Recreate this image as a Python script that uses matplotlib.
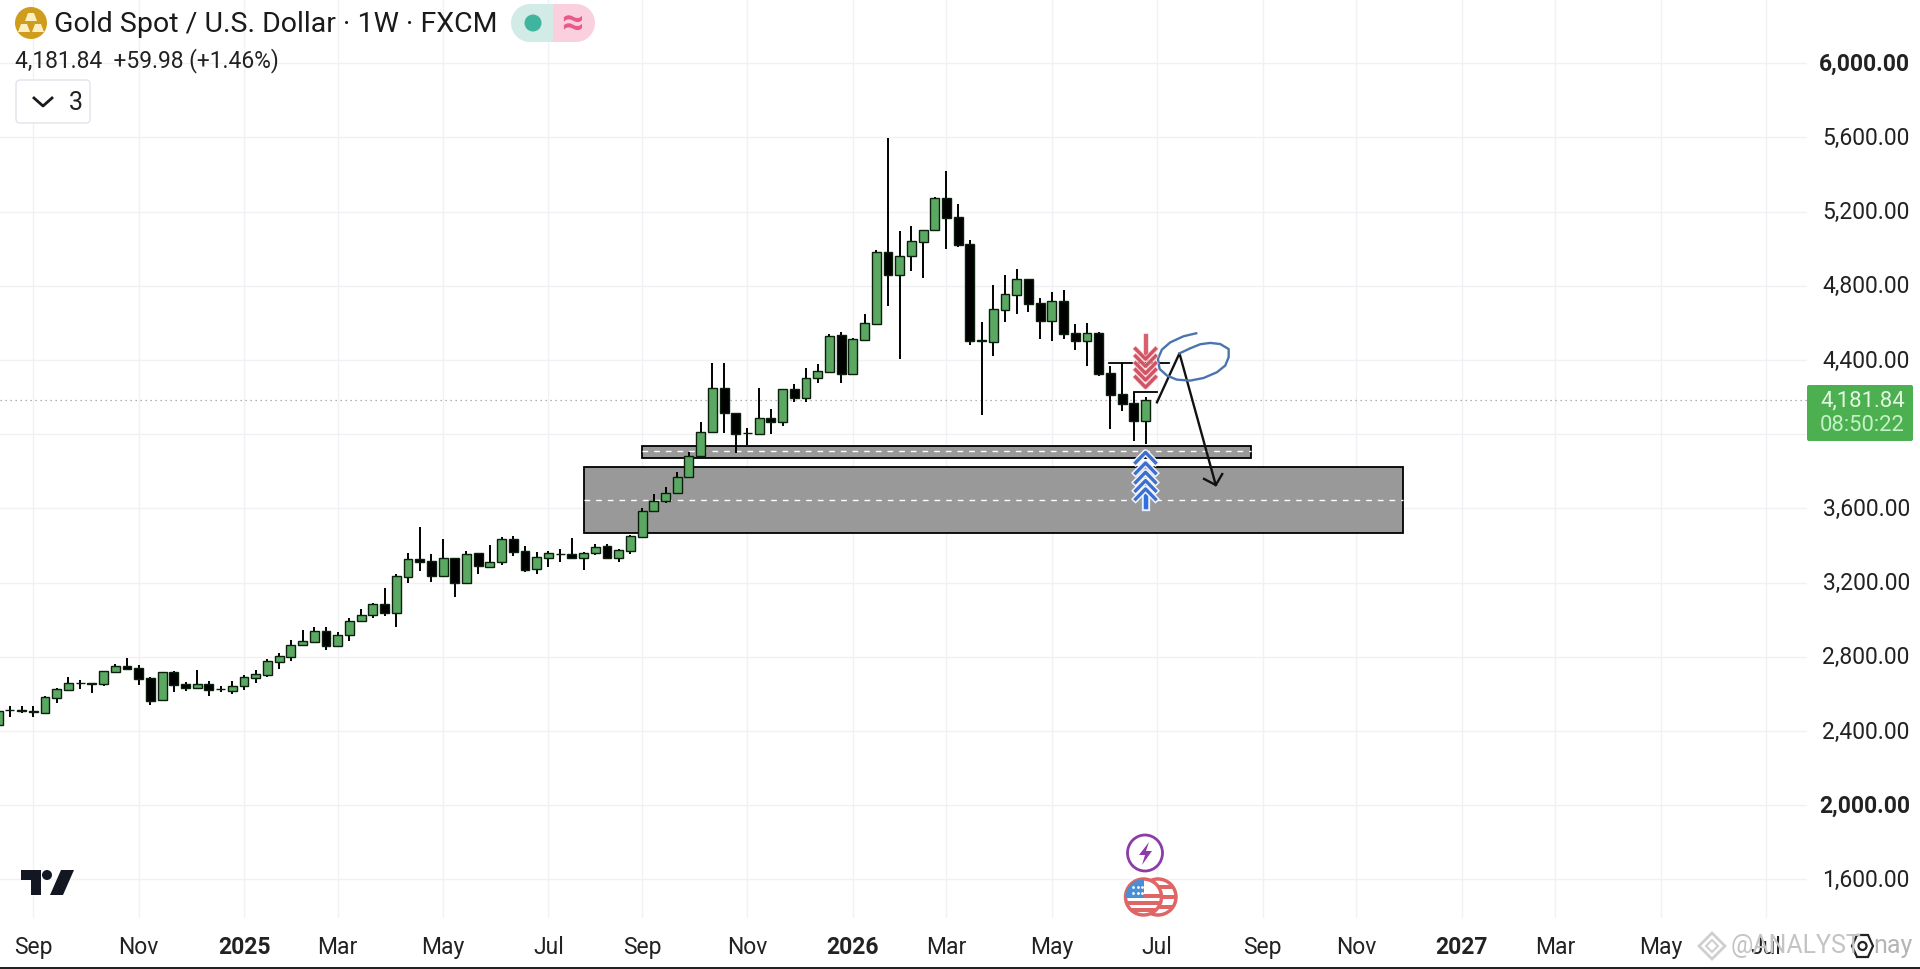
import matplotlib
matplotlib.use('Agg')
import matplotlib.pyplot as plt
from matplotlib.patches import Circle, Ellipse, FancyBboxPatch, Polygon, Rectangle
import matplotlib.patheffects as pe

plt.rcParams['font.family'] = ['Roboto', 'DejaVu Sans']

# weekly candles, index 0 = first week shown under the Sep label
first_week = -3
opens = [2434, 2511, 2511, 2506, 2497, 2580, 2623, 2657, 2657, 2655, 2720, 2749, 2738, 2686, 2565, 2718, 2652, 2634, 2652, 2624,
         2617, 2641, 2687, 2704, 2774, 2801, 2862, 2882, 2937, 2860, 2916, 2991, 3024, 3083, 3038, 3232, 3325, 3315, 3237, 3331,
         3200, 3358, 3286, 3309, 3433, 3369, 3271, 3334, 3355, 3352, 3334, 3361, 3395, 3334, 3372, 3448, 3588, 3642, 3681, 3768,
         3884, 4014, 4247, 4113, 4004, 4003, 4087, 4068, 4242, 4197, 4301, 4337, 4535, 4326, 4510, 4596, 4981, 4860, 4959, 5038,
         5099, 5272, 5171, 5024, 4505, 4495, 4671, 4752, 4835, 4706, 4612, 4716, 4546, 4504, 4544, 4328, 4215, 4167, 4073]
highs = [2518, 2533, 2535, 2537, 2590, 2630, 2693, 2675, 2658, 2725, 2761, 2793, 2756, 2689, 2720, 2722, 2666, 2729, 2670, 2641,
         2670, 2702, 2727, 2786, 2820, 2889, 2944, 2960, 2962, 2932, 3007, 3058, 3088, 3171, 3246, 3358, 3498, 3354, 3435, 3333,
         3369, 3360, 3403, 3446, 3451, 3396, 3363, 3370, 3381, 3440, 3365, 3408, 3408, 3381, 3458, 3602, 3678, 3714, 3794, 3906,
         4064, 4384, 4384, 4115, 4032, 4247, 4136, 4245, 4271, 4357, 4379, 4540, 4553, 4519, 4648, 4995, 5597, 5096, 5122, 5101,
         5279, 5419, 5241, 5045, 4607, 4804, 4858, 4889, 4837, 4733, 4765, 4776, 4592, 4600, 4551, 4368, 4382, 4226, 4202]
lows = [2429, 2477, 2497, 2475, 2492, 2553, 2617, 2626, 2605, 2644, 2713, 2727, 2648, 2540, 2563, 2612, 2616, 2630, 2589, 2610,
        2601, 2621, 2659, 2691, 2734, 2777, 2860, 2880, 2837, 2858, 2885, 2990, 3007, 3022, 2961, 3200, 3264, 3205, 3235, 3122,
        3198, 3246, 3284, 3295, 3343, 3257, 3248, 3284, 3313, 3329, 3268, 3349, 3332, 3311, 3354, 3444, 3582, 3631, 3680, 3766,
        3882, 4012, 4008, 3897, 3942, 4001, 4001, 4042, 4172, 4175, 4278, 4335, 4278, 4324, 4508, 4594, 4693, 4405, 4882, 4842,
        5097, 5000, 5009, 4481, 4105, 4422, 4607, 4648, 4659, 4513, 4503, 4513, 4452, 4370, 4316, 4028, 4127, 3962, 3947]
closes = [2509, 2514, 2507, 2502, 2581, 2625, 2657, 2659, 2656, 2722, 2749, 2736, 2682, 2563, 2716, 2650, 2634, 2652, 2623, 2626,
          2641, 2689, 2705, 2775, 2802, 2862, 2883, 2937, 2860, 2916, 2991, 3024, 3083, 3038, 3234, 3325, 3313, 3237, 3331, 3200,
          3356, 3291, 3309, 3433, 3367, 3270, 3336, 3358, 3353, 3334, 3361, 3394, 3334, 3374, 3449, 3588, 3642, 3681, 3768, 3884,
          4014, 4247, 4113, 4003, 4006, 4086, 4068, 4242, 4197, 4301, 4339, 4530, 4326, 4512, 4598, 4981, 4860, 4959, 5040, 5099,
          5272, 5167, 5022, 4504, 4507, 4673, 4754, 4835, 4704, 4612, 4716, 4542, 4504, 4544, 4326, 4213, 4165, 4073, 4182]
last_price = 4181.84

# axes
price_ticks = [1600, 2000, 2400, 2800, 3200, 3600, 4000, 4400, 4800, 5200, 5600, 6000]
price_labels = ['1,600.00', '2,000.00', '2,400.00', '2,800.00', '3,200.00', '3,600.00', '',
                '4,400.00', '4,800.00', '5,200.00', '5,600.00', '6,000.00']
bold_prices = ['2,000.00', '6,000.00']
time_ticks = [0, 9, 18, 26, 35, 44, 52, 61, 70, 78, 87, 96, 105, 113, 122, 130, 139, 148]
time_labels = ['Sep', 'Nov', '2025', 'Mar', 'May', 'Jul', 'Sep', 'Nov', '2026', 'Mar', 'May', 'Jul',
               'Sep', 'Nov', '2027', 'Mar', 'May', 'Jul']
bold_times = ['2025', '2026', '2027']

# drawn zones: left, right, bottom, top, dashed middle
zone_small = [52, 104, 3870, 3938, 3908]
zone_big = [47, 117, 3466, 3821, 3644]

# hand drawn stuff
high_line_a = [91.9, 97, 4382]
high_line_b = [94, 96, 4226]
path_x = [95.98, 97.9, 101]
path_y = [4172, 4436, 3726]
head_x = [100, 101, 101.55]
head_y = [3759, 3726, 3785]
scribble_x = [99.33, 98.25, 97.11, 96.4, 96.06, 96.2, 96.83, 97.68, 98.82, 99.96, 101.1, 101.81, 102.1, 102.1, 101.38,
              100.53, 99.68, 98.82, 97.91]
scribble_y = [4544, 4528, 4495, 4456, 4406, 4352, 4316, 4294, 4289, 4303, 4334, 4370, 4415, 4459, 4486, 4492, 4485,
              4463, 4436]
signal_week = 95
red_shaft = [4405, 4531]
red_chevrons = [4405, 4366, 4328, 4292, 4253]
blue_shaft = [3606, 3723]
blue_chevrons = [3902, 3845, 3795, 3750, 3705]

GREEN = '#5aa862'
GRID = '#f0f1f4'

fig = plt.figure(figsize=(19.2, 9.7), dpi=100, facecolor='white')
ax = fig.add_axes([0, 51 / 970, 1807 / 1920, 919 / 970])
ax.set_xlim(-2.845, 151.5)
ax.set_ylim(1392, 6346)
for s in ax.spines.values():
    s.set_visible(False)
ax.set_axisbelow(True)
ax.grid(color=GRID, lw=1)

ax.yaxis.tick_right()
ax.set_yticks(price_ticks)
ax.set_yticklabels(price_labels, fontsize=16.5, color='#222222')
ax.tick_params(axis='y', length=0, pad=74)
for lab in ax.get_yticklabels():
    lab.set_ha('right')
    lab.set_va('center')
    if lab.get_text() in bold_prices:
        lab.set_fontweight('bold')
ax.set_xticks(time_ticks)
ax.set_xticklabels(time_labels, fontsize=16.5, color='#222222')
ax.tick_params(axis='x', length=0, pad=12.5)
for lab in ax.get_xticklabels():
    if lab.get_text() in bold_times:
        lab.set_fontweight('bold')

for z in [zone_small, zone_big]:
    ax.add_patch(Rectangle((z[0], z[2]), z[1] - z[0], z[3] - z[2], fc='#999999', ec='black', lw=1.3, zorder=1))
    ax.plot(z[:2], [z[4], z[4]], color='white', lw=1.0, dashes=(4.1, 4.3), zorder=1.5)

ax.axhline(last_price, color='#9a9a9a', lw=0.9, ls=(0, (1, 3)), zorder=1.6)

weeks = [first_week + i for i in range(len(opens))]
colors = [GREEN if c >= o else 'black' for o, c in zip(opens, closes)]
bottoms = [min(o, c) for o, c in zip(opens, closes)]
sizes = [abs(c - o) for o, c in zip(opens, closes)]
ax.vlines(weeks, lows, highs, color='black', lw=1.4, zorder=2)
ax.bar(weeks, sizes, 0.76, bottoms, color=colors, edgecolor='#0c1f0c', linewidth=1.0, zorder=3)

ax.plot(high_line_a[:2], [high_line_a[2]] * 2, color='black', lw=1.3, zorder=3)
ax.plot(high_line_b[:2], [high_line_b[2]] * 2, color='black', lw=1.3, zorder=3)
ax.plot(path_x, path_y, color='#111111', lw=1.7, zorder=4)
ax.plot(head_x, head_y, color='#111111', lw=1.7, zorder=4)
ax.plot(scribble_x, scribble_y, color='#4a74ad', lw=1.7, zorder=4)

# signal arrows
ax.plot([signal_week, signal_week], red_shaft, color='#d9606f', lw=3.2, zorder=4)
for p in red_chevrons:
    ax.plot([signal_week - 0.85, signal_week, signal_week + 0.85], [p + 55, p, p + 55], color='#cf5565',
            lw=2.4, zorder=4.5, path_effects=[pe.withStroke(linewidth=3.4, foreground='#f6c9cf')])
ax.plot([signal_week, signal_week], blue_shaft, color='#2f6fe0', lw=3.2, zorder=4,
        path_effects=[pe.withStroke(linewidth=6, foreground='#e6eefc')])
for p in blue_chevrons:
    ax.plot([signal_week - 0.85, signal_week, signal_week + 0.85], [p - 55, p, p - 55], color='#3b6fd0',
            lw=2.4, zorder=4.5, path_effects=[pe.withStroke(linewidth=4.6, foreground='#f2f5fb')])

# overlay in screen pixels for the app chrome
ui = fig.add_axes([0, 0, 1, 1], facecolor='none')
ui.set_xlim(0, 1920)
ui.set_ylim(970, 0)
ui.axis('off')

# gold icon
ui.add_patch(Ellipse((31, 24), 32, 32, fc='#cf9c1d', ec='none'))
for bx, by in [(31, 18), (24, 29), (38, 29)]:
    ui.add_patch(Polygon([(bx - 3, by - 4), (bx + 3, by - 4), (bx + 6, by + 4), (bx - 6, by + 4)], fc='#fbf0c4', ec='none'))

ui.text(54, 25, 'Gold Spot / U.S. Dollar · 1W · FXCM', fontsize=20.5, color='#1a1a1a', va='center', ha='left')
ui.text(15, 61, '4,181.84  +59.98 (+1.46%)', fontsize=16.4, color='#222222', va='center', ha='left')

# status pill
ui.add_patch(Ellipse((530, 24), 38, 38, fc='#d3ebe6', ec='none'))
ui.add_patch(Rectangle((530, 5), 23, 38, fc='#d3ebe6', ec='none'))
ui.add_patch(Rectangle((553, 5), 23, 38, fc='#fbd0de', ec='none'))
ui.add_patch(Ellipse((576, 24), 38, 38, fc='#fbd0de', ec='none'))
ui.add_patch(Ellipse((533, 24), 17, 17, fc='#3fb5a0', ec='none'))
ui.text(572, 24, '≈', fontsize=28, color='#e8598c', va='center', ha='center', fontweight='bold')

# collapse box
ui.add_patch(FancyBboxPatch((16, 81), 74, 43, boxstyle='round,pad=0,rounding_size=4', fc='white', ec='#e0e3eb', lw=1))
ui.plot([34, 43, 52], [99, 107, 99], color='#1a1a1a', lw=2)
ui.text(76, 103, '3', fontsize=18, color='#222222', va='center', ha='center')

# last price tag
ui.add_patch(FancyBboxPatch((1807, 386), 106, 56, boxstyle='round,pad=0,rounding_size=2', fc='#4caf50', ec='none'))
ui.text(1905, 401, '4,181.84', fontsize=15.8, color='#e3f7e3', va='center', ha='right')
ui.text(1905, 426, '08:50:22', fontsize=15.8, color='#c4f2c6', va='center', ha='right')

# tradingview logo
ui.add_patch(Polygon([(21, 871), (41, 871), (41, 896), (31, 896), (31, 881), (21, 881)], fc='#131722', ec='none'))
ui.add_patch(Circle((47, 876), 5, fc='#131722', ec='none'))
ui.add_patch(Polygon([(61, 871), (74, 871), (63, 896), (50, 896)], fc='#131722', ec='none'))

# event badges
ui.add_patch(Ellipse((1145, 854), 35, 36, fc='white', ec='#8e3aa8', lw=2))
ui.add_patch(Polygon([(1149, 843), (1139, 856), (1145, 856), (1142, 866), (1152, 852), (1146, 852)], fc='#8e3aa8', ec='none'))

back_coin = Circle((1158, 898), 18, fc='white', ec='#e06666', lw=2.5, zorder=3)
ui.add_patch(back_coin)
for sy in [888, 898, 908]:
    r = Rectangle((1150, sy - 2), 30, 4, fc='#e06666', ec='none', zorder=3.1)
    ui.add_patch(r)
    r.set_clip_path(back_coin)
front_coin = Circle((1143.5, 898), 18, fc='white', ec='#e06666', lw=2.5, zorder=3.2)
ui.add_patch(front_coin)
for sy in [897, 904, 911]:
    r = Rectangle((1124, sy - 1.7), 38, 3.4, fc='#e06666', ec='none', zorder=3.3)
    ui.add_patch(r)
    r.set_clip_path(front_coin)
canton = Rectangle((1124, 880), 20, 19, fc='#4a8fd6', ec='none', zorder=3.4)
ui.add_patch(canton)
canton.set_clip_path(front_coin)
ui.scatter([1133, 1138, 1142, 1133, 1138, 1142], [888, 888, 888, 894, 894, 894], s=4, color='white', zorder=3.5, linewidths=0)

# watermark and settings icon
ui.add_patch(Polygon([(1712, 934), (1725, 947), (1712, 960), (1699, 947)], fc='none', ec='#cfcfcf', lw=2))
ui.add_patch(Polygon([(1712, 941), (1718, 947), (1712, 953), (1706, 947)], fc='none', ec='#cfcfcf', lw=1.5))
ui.text(1731, 946, '@ANALYST', fontsize=18, color='#c4c4c4', va='center', ha='left')
ui.text(1873, 946, 'nay', fontsize=18, color='#b5b5b5', va='center', ha='left')
ui.add_patch(Polygon([(1857, 936), (1868, 936), (1873, 947), (1868, 958), (1857, 958), (1852, 947)], fc='none', ec='#222222', lw=1.6))
ui.add_patch(Circle((1862.5, 947), 4, fc='none', ec='#222222', lw=1.6))

ui.add_patch(Rectangle((0, 968), 1920, 2, fc='#222222', ec='none'))

fig.savefig('out.png', dpi=100, facecolor='white')
